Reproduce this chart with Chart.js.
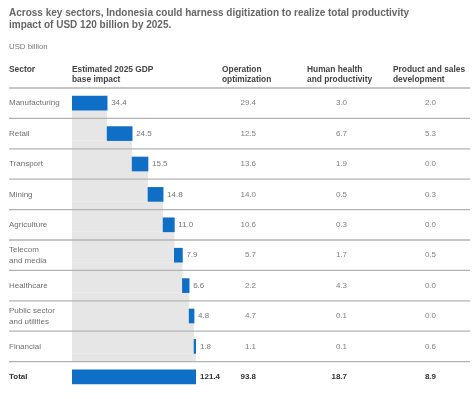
<!DOCTYPE html>
<html>
<head>
<meta charset="utf-8">
<script src="https://cdn.jsdelivr.net/npm/chart.js@4.4.1/dist/chart.umd.min.js"></script>
<style>
  body { margin: 0; background: #fff; }
  #wrap { width: 474px; height: 399px; position: relative; }
</style>
</head>
<body>
<div id="wrap"><canvas id="chart"></canvas></div>
<script>
const sectors = ['Manufacturing', 'Retail', 'Transport', 'Mining', 'Agriculture',
    ['Telecom', 'and media'], 'Healthcare', ['Public sector', 'and utilities'], 'Financial'];
const gdpImpact = [34.4, 24.5, 15.5, 14.8, 11.0, 7.9, 6.6, 4.8, 1.8];
const operation = [29.4, 12.5, 13.6, 14.0, 10.6, 5.7, 2.2, 4.7, 1.1];
const humanHealth = [3.0, 6.7, 1.9, 0.5, 0.3, 1.7, 4.3, 0.1, 0.1];
const productSales = [2.0, 5.3, 0.0, 0.3, 0.0, 0.5, 0.0, 0.0, 0.6];
const totals = [121.4, 93.8, 18.7, 8.9];   // gdp, operation, human health, product

const titleLines = ['Across key sectors, Indonesia could harness digitization to realize total productivity',
    'impact of USD 120 billion by 2025.'];
const unitLabel = 'USD billion';
const headers = [
    ['Sector'],
    ['Estimated 2025 GDP', 'base impact'],
    ['Operation', 'optimization'],
    ['Human health', 'and productivity'],
    ['Product and sales', 'development']
];

const FONT = '"Liberation Sans", Arial, sans-serif';
const BLUE = '#0f6fc6';
const GREY = '#e6e6e6';

// waterfall ranges
let run = 0;
const ranges = gdpImpact.map(v => { const r = [run, run + v]; run += v; return r; });
ranges.push([0, totals[0]]);
const labels = [...sectors, 'Total'];

const tablePlugin = {
    id: 'tablePlugin',
    beforeDatasetsDraw(chart) {
        const { ctx, chartArea, scales: { x, y } } = chart;
        const half = 7;
        ctx.save();
        // grey staircase under the bars
        ctx.fillStyle = GREY;
        for (let i = 0; i < gdpImpact.length; i++) {
            const yTop = y.getPixelForValue(i) + half;
            const yBot = i < gdpImpact.length - 1
                ? y.getPixelForValue(i + 1) + half
                : (y.getPixelForValue(i) + y.getPixelForValue(i + 1)) / 2;
            const x0 = x.getPixelForValue(0);
            const x1 = x.getPixelForValue(ranges[i][1]);
            ctx.fillRect(x0, yTop, x1 - x0, yBot - yTop);
        }
        // row separators
        ctx.strokeStyle = '#b3b3b3';
        ctx.lineWidth = 1.3;
        for (let i = 0; i < labels.length; i++) {
            const yy = i === 0 ? chartArea.top : (y.getPixelForValue(i - 1) + y.getPixelForValue(i)) / 2;
            ctx.beginPath();
            ctx.moveTo(9, yy);
            ctx.lineTo(470, yy);
            ctx.stroke();
        }
        ctx.restore();
    },
    afterDraw(chart) {
        const { ctx, chartArea, scales: { x, y } } = chart;
        ctx.save();
        // title
        ctx.fillStyle = '#666';
        ctx.font = 'bold 10px ' + FONT;
        ctx.textBaseline = 'middle';
        ctx.textAlign = 'left';
        titleLines.forEach((t, i) => ctx.fillText(t, 9, 13 + i * 12));
        ctx.font = '7.8px ' + FONT;
        ctx.fillStyle = '#777';
        ctx.fillText(unitLabel, 9, 47);

        // column headers
        const headX = [9, chartArea.left, 222, 307, 393];
        ctx.fillStyle = '#444';
        ctx.font = 'bold 8.4px ' + FONT;
        headers.forEach((h, c) => h.forEach((line, j) => ctx.fillText(line, headX[c], 70 + j * 10)));

        // labels next to the waterfall bars
        ranges.forEach((r, i) => {
            const isTotal = i === ranges.length - 1;
            ctx.font = (isTotal ? 'bold ' : '') + '8px ' + FONT;
            ctx.fillStyle = isTotal ? '#333' : '#777';
            const v = isTotal ? totals[0] : gdpImpact[i];
            ctx.fillText(v.toFixed(1), x.getPixelForValue(r[1]) + 4, y.getPixelForValue(i));
        });

        // table columns
        const colRight = [256, 347, 436];
        const cols = [operation, humanHealth, productSales];
        ctx.textAlign = 'right';
        cols.forEach((col, c) => {
            ctx.font = '8px ' + FONT;
            ctx.fillStyle = '#808080';
            col.forEach((v, i) => ctx.fillText(v.toFixed(1), colRight[c], y.getPixelForValue(i)));
            ctx.font = 'bold 8px ' + FONT;
            ctx.fillStyle = '#333';
            ctx.fillText(totals[c + 1].toFixed(1), colRight[c], y.getPixelForValue(labels.length - 1));
        });
        ctx.restore();
    }
};

new Chart(document.getElementById('chart'), {
    type: 'bar',
    data: {
        labels: labels,
        datasets: [{
            data: ranges,
            backgroundColor: BLUE,
            borderWidth: 0,
            barThickness: 14
        }]
    },
    options: {
        indexAxis: 'y',
        responsive: true,
        maintainAspectRatio: false,
        animation: false,
        layout: { padding: { left: 9, top: 88, right: 278, bottom: 7 } },
        plugins: {
            legend: { display: false },
            tooltip: { enabled: false }
        },
        scales: {
            x: { display: false, min: 0, max: totals[0] },
            y: {
                grid: { display: false },
                border: { display: false },
                afterFit: s => { s.width = 63; },
                ticks: {
                    crossAlign: 'far',
                    padding: 0,
                    color: ctx => ctx.index === labels.length - 1 ? '#333' : '#6f6f6f',
                    font: ctx => ({
                        family: FONT,
                        size: 8,
                        weight: ctx.index === labels.length - 1 ? 'bold' : 'normal',
                        lineHeight: 1.35
                    })
                }
            }
        }
    },
    plugins: [tablePlugin]
});
</script>
</body>
</html>
